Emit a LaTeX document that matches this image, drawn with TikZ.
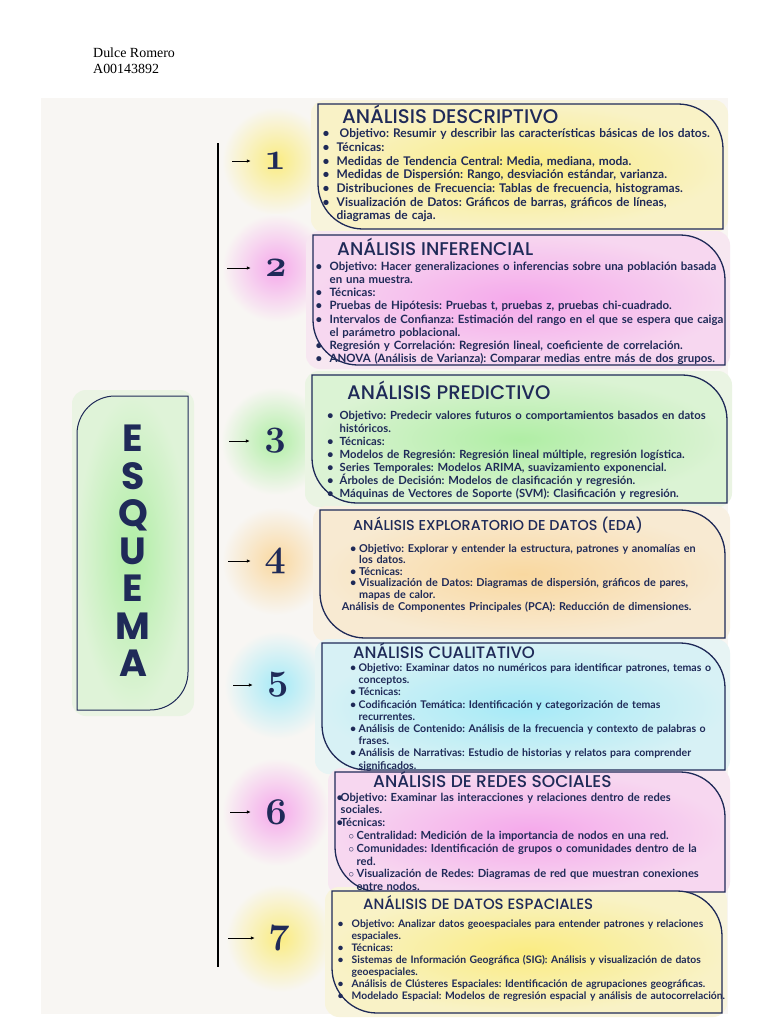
\documentclass[tikz,border=0pt]{standalone}
\usepackage{fontspec}
\setmainfont{Lato}
\newfontfamily\titlefont{Poppins Medium}
\newfontfamily\letterfont{Poppins}
\newfontfamily\numfont{Latin Modern Roman}[Numbers=OldStyle]
\newfontfamily\hdrfont{Liberation Serif}
\usetikzlibrary{arrows.meta,positioning}
\frenchspacing
\definecolor{navy}{RGB}{31,42,88}
\definecolor{panel}{RGB}{248,246,243}
\definecolor{cyel}{RGB}{250,236,130}
\definecolor{cpink}{RGB}{245,168,235}
\definecolor{cgreen}{RGB}{176,238,165}
\definecolor{cpeach}{RGB}{249,216,160}
\definecolor{ccyan}{RGB}{165,234,247}
\newlength{\bw}
\newcommand{\itm}{\makebox[\bw][l]{\textbullet}}
\newcommand{\cnt}{\hspace*{\bw}}
\newcommand{\subitm}{\hspace*{12bp}\makebox[8bp][l]{$\circ$}}
\newcommand{\subcnt}{\hspace*{20bp}}
\tikzset{
    hdr/.style={anchor=base west,inner sep=0pt,font=\hdrfont\fontsize{14}{16}\selectfont},
    ttl/.style={anchor=base west,inner sep=0pt,text=navy,font=\titlefont\fontsize{#1}{#1}\selectfont},
    bdy/.style 2 args={anchor=base west,inner sep=0pt,text width=430bp,align=left,text=navy,font=\bfseries\fontsize{#1}{#2}\selectfont},
    num/.style={circle,inner sep=0pt,minimum size=50bp,text=navy,font=\numfont\bfseries\fontsize{38}{38}\selectfont},
    arrow/.style={-{Latex[length=4bp,width=3.5bp]},line width=0.9bp},
    rim/.style={draw=navy,line width=1.3bp}
}

\begin{document}
\begin{tikzpicture}[x=1bp,y=-1bp]
    \useasboundingbox (0,0) rectangle (768,1024);
    \fill[white] (0,0) rectangle (768,1024);
    \fill[panel] (41,98) rectangle (728,1014);

    % header
    \node[hdr] (who) at (93,57) {Dulce Romero};
    \node[hdr] (id) at (93,73.5) {A00143892};

    % glows behind the numbers
    \foreach \i/\x/\y/\col in {1/276/161/cyel,2/276/268/cpink,3/275/441/cgreen,4/276/561/cpeach,5/278/685/ccyan,6/276/812/cpink,7/280/938/cyel}
        {\shade[inner color=\col,outer color=panel] (\x,\y) circle (54);}

    % title box
    \fill[cgreen!20!panel,rounded corners=14] (72,390) rectangle (194,716);
    \shadedraw[rim,line width=1bp,inner color=cgreen,outer color=cgreen!35!panel]
        (115,396) -- (188,396) -- (188,672) arc (0:90:38) -- (77,710) -- (77,434) arc (180:270:38) -- cycle;
    \node[text=navy,align=center,inner sep=0pt,font=\letterfont\bfseries\fontsize{38}{37.6}\selectfont] (esq) at (133,551) {E\\S\\Q\\U\\E\\M\\A};

    % topic boxes
    \foreach \xa/\ya/\xb/\yb/\col in {318/104/723/229/cyel,313/235/725/365/cpink,312/375/727/503/cgreen,320/510/725/638/cpeach,322/643/725/770/ccyan,335/772/725/892/cpink,332/891/722/1013/cyel}
        {\fill[\col!20!panel,rounded corners=14] ({\xa-7},{\ya-4}) rectangle ({\xb+5},{\yb+4});}
    \foreach \xa/\ya/\xb/\yb/\col in {318/104/723/229/cyel,313/235/725/365/cpink,312/375/727/503/cgreen,320/510/725/638/cpeach,322/643/725/770/ccyan,335/772/725/892/cpink,332/891/722/1013/cyel}
        {\shadedraw[rim,inner color=\col,outer color=\col!40!panel]
            (\xa,\ya) -- ({\xb-45},\ya) arc (-90:0:45) -- (\xb,\yb) -- ({\xa+45},\yb) arc (90:180:45) -- cycle;}

    % timeline
    \coordinate (top) at (218,143);
    \coordinate (bot) at (218,967);
    \draw[line width=1.2bp] (top) -- (bot);
    \foreach \i/\x/\y/\ax in {1/276/161/232,2/276/268/227,3/275/441/229,4/276/561/228,5/278/685/233,6/276/812/230,7/280/938/228} {
        \node[num] (n\i) at (\x,\y) {\i};
        \coordinate (a\i) at (\ax,\y);
        \draw[arrow] (a\i) -- (n\i);
    }

    % box texts
    \node[ttl=19.8] (t1) at (342,123) {ANÁLISIS DESCRIPTIVO};
    \node[bdy={12}{13.8}] (b1) at (322.5,137.5) {\setlength{\bw}{14bp}%
        \itm\hspace{3bp}Objetivo: Resumir y describir las características básicas de los datos.\\
        \itm Técnicas:\\
        \itm Medidas de Tendencia Central: Media, mediana, moda.\\
        \itm Medidas de Dispersión: Rango, desviación estándar, varianza.\\
        \itm Distribuciones de Frecuencia: Tablas de frecuencia, histogramas.\\
        \itm Visualización de Datos: Gráficos de barras, gráficos de líneas,\\
        \cnt diagramas de caja.};

    \node[ttl=18.5] (t2) at (337,255.5) {ANÁLISIS INFERENCIAL};
    \node[bdy={11.5}{13.3}] (b2) at (315.5,270) {\setlength{\bw}{14bp}%
        \itm Objetivo: Hacer generalizaciones o inferencias sobre una población basada\\
        \cnt en una muestra.\\
        \itm Técnicas:\\
        \itm Pruebas de Hipótesis: Pruebas t, pruebas z, pruebas chi-cuadrado.\\
        \itm Intervalos de Confianza: Estimación del rango en el que se espera que caiga\\
        \cnt el parámetro poblacional.\\
        \itm Regresión y Correlación: Regresión lineal, coeficiente de correlación.\\
        \itm ANOVA (Análisis de Varianza): Comparar medias entre más de dos grupos.};

    \node[ttl=19.7] (t3) at (347,399) {ANÁLISIS PREDICTIVO};
    \node[bdy={11.3}{13.1}] (b3) at (327,419) {\setlength{\bw}{12.5bp}%
        \itm Objetivo: Predecir valores futuros o comportamientos basados en datos\\
        \cnt históricos.\\
        \itm Técnicas:\\
        \itm Modelos de Regresión: Regresión lineal múltiple, regresión logística.\\
        \itm Series Temporales: Modelos ARIMA, suavizamiento exponencial.\\
        \itm Árboles de Decisión: Modelos de clasificación y regresión.\\
        \itm Máquinas de Vectores de Soporte (SVM): Clasificación y regresión.};

    \node[ttl=14.4] (t4) at (353,530) {ANÁLISIS EXPLORATORIO DE DATOS (EDA)};
    \node[bdy={10.9}{11.7}] (b4) at (350,552) {\setlength{\bw}{9bp}%
        \itm Objetivo: Explorar y entender la estructura, patrones y anomalías en\\
        \cnt los datos.\\
        \itm Técnicas:\\
        \itm Visualización de Datos: Diagramas de dispersión, gráficos de pares,\\
        \cnt mapas de calor.\\
        \hspace*{-8.3bp}Análisis de Componentes Principales (PCA): Reducción de dimensiones.};

    \node[ttl=16.6] (t5) at (353,658) {ANÁLISIS CUALITATIVO};
    \node[bdy={10.6}{12.25}] (b5) at (350,671.5) {\setlength{\bw}{8.5bp}%
        \itm Objetivo: Examinar datos no numéricos para identificar patrones, temas o\\
        \cnt conceptos.\\
        \itm Técnicas:\\
        \itm Codificación Temática: Identificación y categorización de temas\\
        \cnt recurrentes.\\
        \itm Análisis de Contenido: Análisis de la frecuencia y contexto de palabras o\\
        \cnt frases.\\
        \itm Análisis de Narrativas: Estudio de historias y relatos para comprender\\
        \cnt significados.};

    \node[ttl=17.1] (t6) at (373,787.5) {ANÁLISIS DE REDES SOCIALES};
    \node[bdy={11.2}{12.85}] (b6) at (336.5,801) {\setlength{\bw}{4bp}%
        \itm Objetivo: Examinar las interacciones y relaciones dentro de redes\\
        \cnt sociales.\\
        \itm Técnicas:\\
        \subitm Centralidad: Medición de la importancia de nodos en una red.\\
        \subitm Comunidades: Identificación de grupos o comunidades dentro de la\\
        \subcnt red.\\
        \subitm Visualización de Redes: Diagramas de red que muestran conexiones\\
        \subcnt entre nodos.};

    \node[ttl=15] (t7) at (363,909) {ANÁLISIS DE DATOS ESPACIALES};
    \node[bdy={10.4}{12.2}] (b7) at (337.5,927) {\setlength{\bw}{14bp}%
        \itm Objetivo: Analizar datos geoespaciales para entender patrones y relaciones\\
        \cnt espaciales.\\
        \itm Técnicas:\\
        \itm Sistemas de Información Geográfica (SIG): Análisis y visualización de datos\\
        \cnt geoespaciales.\\
        \itm Análisis de Clústeres Espaciales: Identificación de agrupaciones geográficas.\\
        \itm Modelado Espacial: Modelos de regresión espacial y análisis de autocorrelación.};
\end{tikzpicture}
\end{document}
